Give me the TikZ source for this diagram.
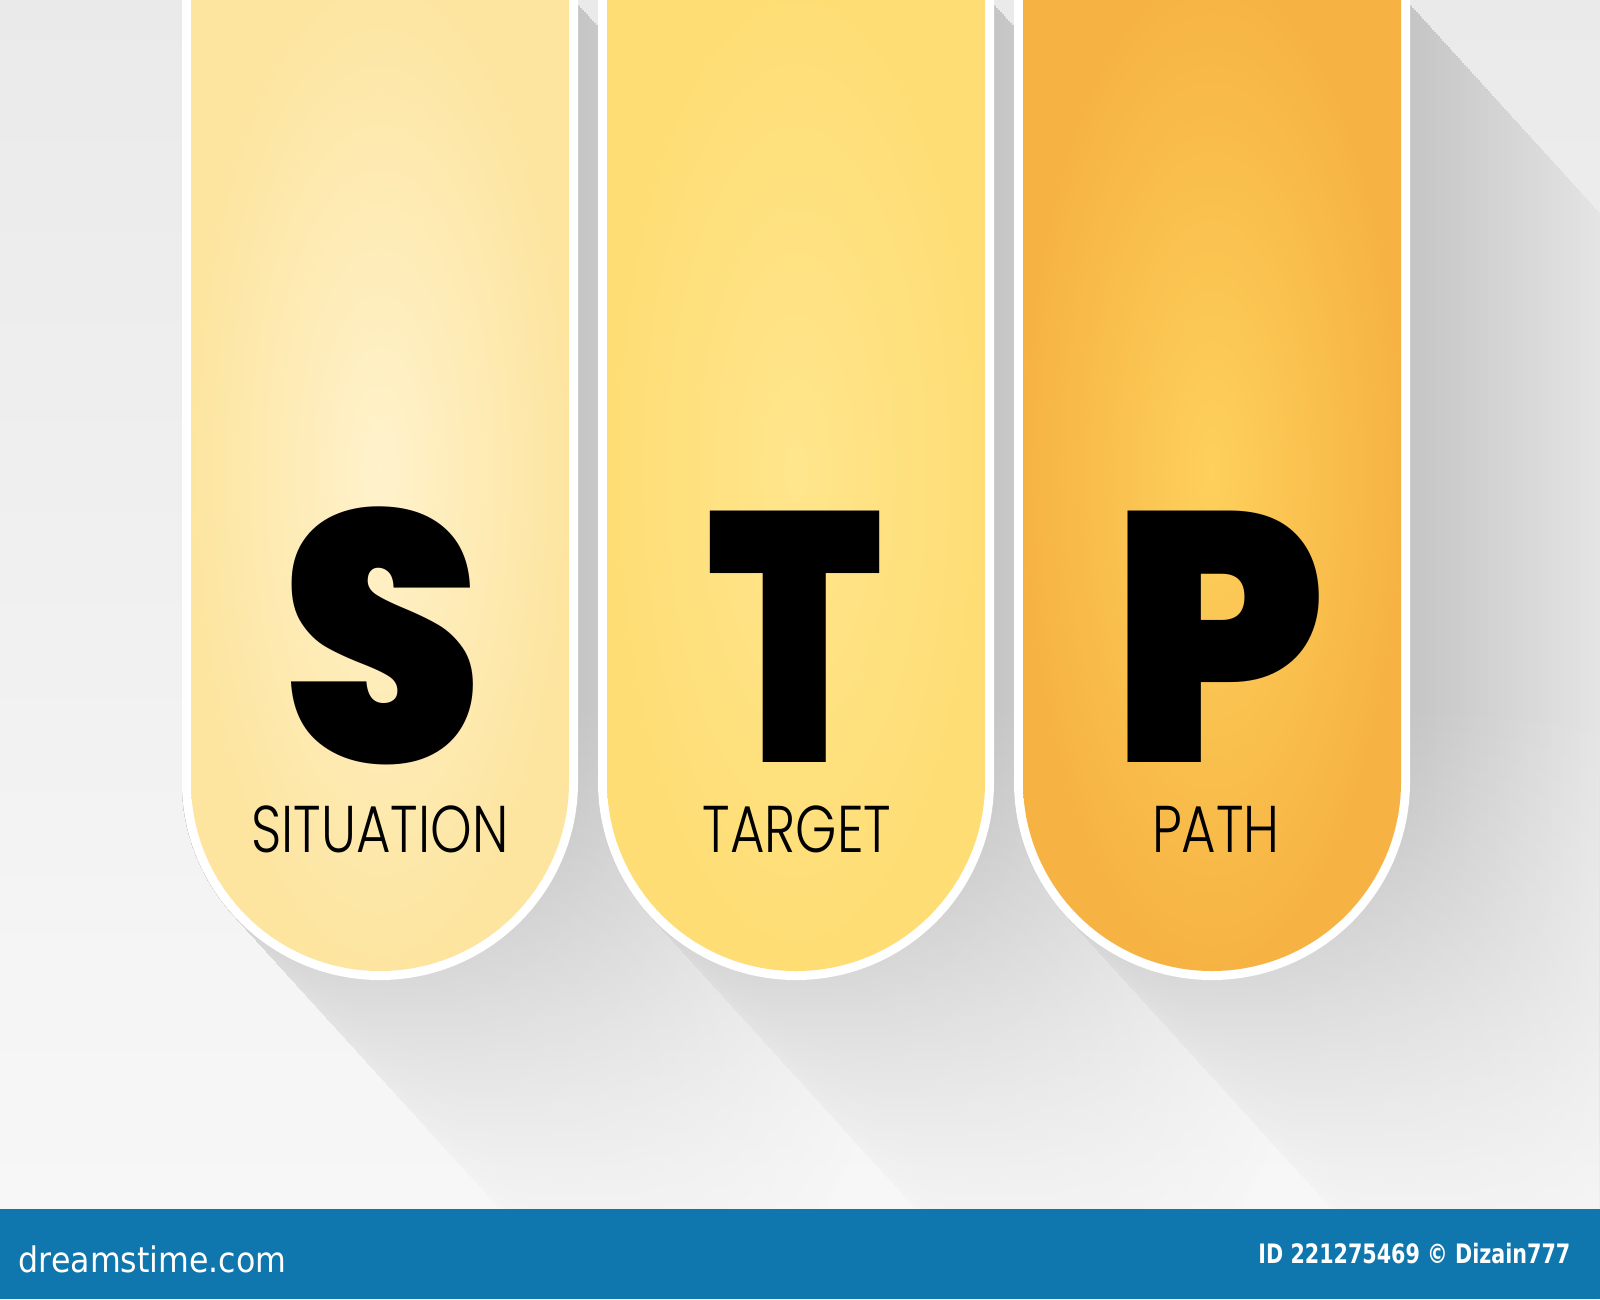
\documentclass[tikz,border=0pt]{standalone}
\usepackage{fontspec}
\newfontfamily\bigfont{Poppins Black}
\newfontfamily\thinfont{Poppins Light}
\newfontfamily\barfont{DejaVu Sans}
\newfontfamily\barcondfont{DejaVu Sans Condensed}
\usetikzlibrary{calc,fadings}
\definecolor{barblue}{RGB}{16,119,174}
\definecolor{bgtop}{RGB}{234,234,234}
\definecolor{bgbot}{RGB}{247,247,247}
\definecolor{p1in}{HTML}{FFF2CC}
\definecolor{p1out}{HTML}{FDE5A0}
\definecolor{p2in}{HTML}{FFE58C}
\definecolor{p2out}{HTML}{FEDD74}
\definecolor{p3in}{HTML}{FED05C}
\definecolor{p3out}{HTML}{F6B343}
\tikzfading[name=risefade, top color=transparent!100, bottom color=transparent!0]
\tikzset{
  bigletter/.style={font=\bigfont\fontsize{101}{101}\selectfont, inner sep=0pt, text=black, anchor=base},
  lbl/.style={font=\thinfont\fontsize{18.8}{20}\selectfont, inner sep=0pt, text=black, anchor=base},
  bartext/.style={inner sep=0pt, text=white}
}
\begin{document}
\begin{tikzpicture}[x=0.01cm,y=-0.01cm]
\useasboundingbox (0,0) rectangle (1600,1299);
\clip (0,0) rectangle (1600,1299);
% background
\shade[top color=bgtop, bottom color=bgbot] (0,0) rectangle (1600,1210);
% long shadows
\foreach \cx in {380,796,1212} {
  \begin{scope}
    \clip (\cx-198,5) -- (\cx-198,782) arc[start angle=180,end angle=137.73,radius=198]
      -- ++(1345.4,1479.8) -- (\cx+198+1345.4,5+1479.8) -- (\cx+198,5) -- cycle;
    \foreach \j in {84,83,...,0} {
      \pgfmathtruncatemacro\g{197+47*\j/84}
      \pgfmathsetmacro\ox{\j*3.3635}
      \pgfmathsetmacro\oy{\j*3.6995}
      \definecolor{shc}{RGB}{\g,\g,\g}
      \fill[shc] (\cx-146.5+\ox-1345.4,915.19+\oy-1479.8) -- (\cx-146.5+\ox,915.19+\oy)
        arc[start angle=137.73,end angle=0,radius=198]
        -- (\cx+198+\ox,5+\oy) -- (\cx+198+\ox-1345.4,5+\oy-1479.8) -- cycle;
    }
  \end{scope}
}
% light haze toward the bottom
\fill[bgbot, path fading=risefade] (0,700) rectangle (1600,1400);
% pills
\foreach \cx/\cin/\cout in {380/p1in/p1out, 796/p2in/p2out, 1212/p3in/p3out} {
  \fill[white] (\cx-198,-30) -- (\cx-198,782) arc[start angle=180,end angle=0,radius=198] -- (\cx+198,-30) -- cycle;
  \shade[inner color=\cin, outer color=\cout] (\cx-189,-30) -- (\cx-189,782) arc[start angle=180,end angle=0,radius=189] -- (\cx+189,-30) -- cycle;
}
% letters
\node[bigletter] (s) at (382,762) {\scalebox{0.9}[1]{S}};
\node[bigletter] (t) at (795,762) {\scalebox{0.8}[1]{T}};
\node[bigletter] (p) at (1219,762) {\scalebox{0.93}[1]{P}};
% labels
\node[lbl] (sl) at (380,852) {\scalebox{0.8}[1]{SITUATION}};
\node[lbl] (tl) at (797,852) {\scalebox{0.8}[1]{TARGET}};
\node[lbl] (pl) at (1216,852) {\scalebox{0.8}[1]{PATH}};
% bottom bar
\fill[barblue] (0,1209) rectangle (1600,1299);
\node[bartext, anchor=base west, font=\barfont\fontsize{10}{11}\selectfont] (logo) at (18,1272) {\scalebox{0.9}[1]{dreamstime.com}};
\node[bartext, anchor=base east, font=\barcondfont\bfseries\fontsize{7.6}{8}\selectfont] (id) at (1571,1263) {\scalebox{0.86}[1]{ID 221275469 © Dizain777}};
\end{tikzpicture}
\end{document}
